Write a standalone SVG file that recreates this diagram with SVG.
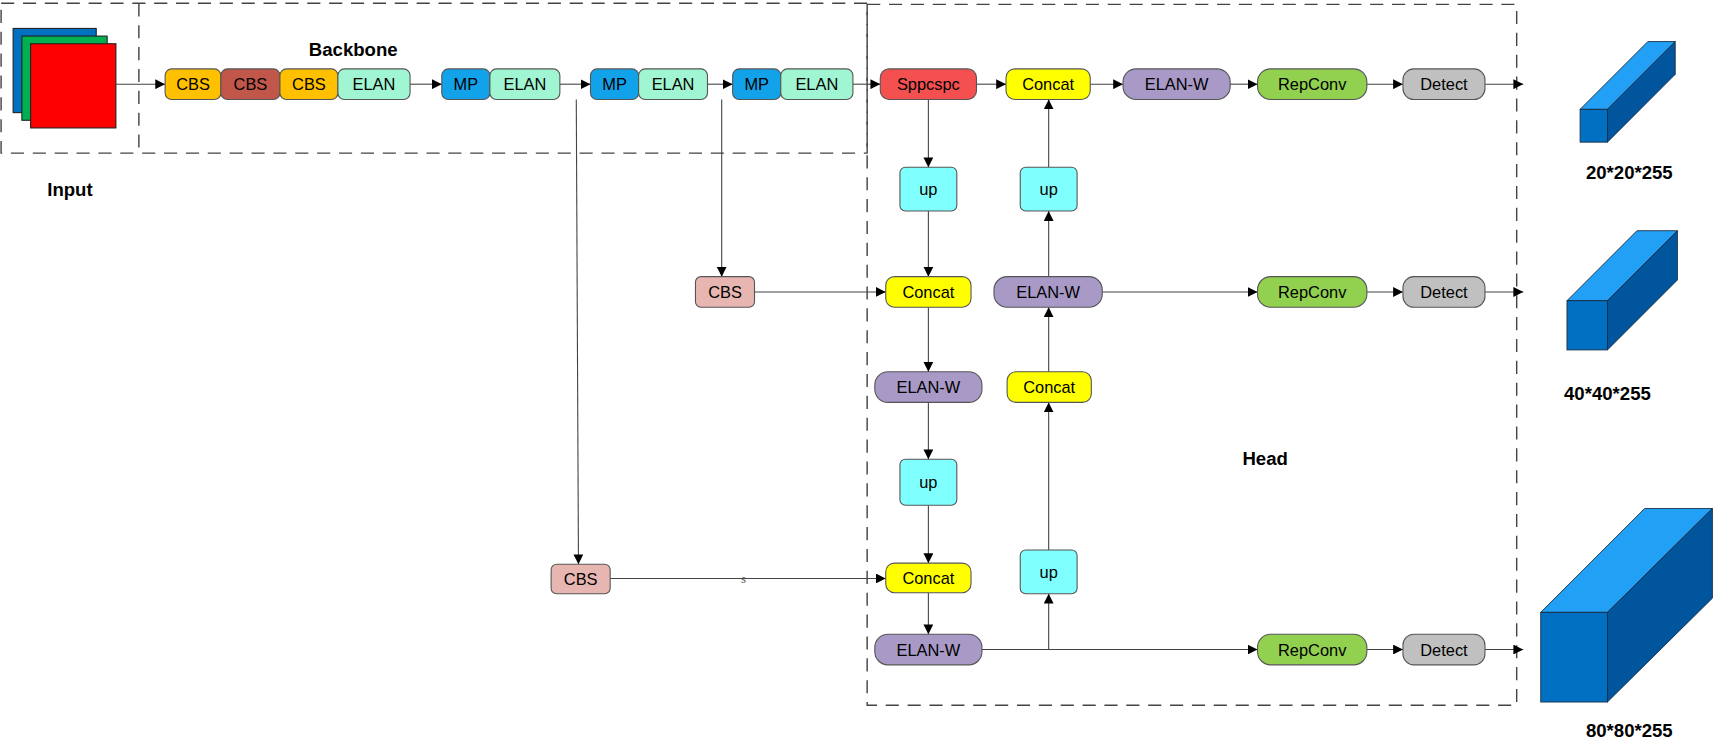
<svg xmlns="http://www.w3.org/2000/svg" width="1717" height="753" viewBox="0 0 1717 753">
<defs>
<marker id="ar" viewBox="0 0 10 10" refX="10" refY="5" markerWidth="9" markerHeight="9" markerUnits="userSpaceOnUse" orient="auto"><path d="M0,0 L10,5 L0,10 z" fill="#000"/></marker>
<style>
.n{stroke:#555;stroke-width:1}
.t{font-family:"Liberation Sans",Arial,sans-serif;font-size:15px;text-anchor:middle;dominant-baseline:central;fill:#000}
.b{font-family:"Liberation Sans",Arial,sans-serif;font-size:17px;font-weight:bold;text-anchor:middle;fill:#000}
.c{stroke:#444;stroke-width:1;fill:none;marker-end:url(#ar)}
.l{stroke:#444;stroke-width:1;fill:none}
.d{stroke:#444;stroke-width:1.3;fill:none;stroke-dasharray:12,8}
.cbs{fill:#FFC000}.cbs2{fill:#C0574A}.elan{fill:#A0F5D2}.mp{fill:#12A2EA}.spp{fill:#F55050}.cat{fill:#FFFF00}.ew{fill:#A899C6}.rep{fill:#92D050}.det{fill:#C0C0C0}.up{fill:#80FFFF}.cbp{fill:#E8B6B0}
</style>
</defs>
<rect width="1717" height="753" fill="#fff"/>
<g transform="scale(1.0935)">
<g id="frames">
<rect class="d" x="1" y="3" width="792" height="137"/>
<line class="d" x1="127" y1="3" x2="127" y2="140"/>
<rect class="d" x="793" y="4" width="594" height="641"/>
</g>
<g id="input">
<rect x="12" y="26" width="76" height="77" fill="#0070C0" stroke="#222"/>
<rect x="20" y="33" width="78" height="77" fill="#00B050" stroke="#222"/>
<rect x="28" y="40" width="78" height="77" fill="#FF0000" stroke="#222"/>
</g>
<g id="labels">
<text class="b" x="323" y="51">Backbone</text>
<text class="b" x="64" y="179">Input</text>
<text class="b" x="1157" y="425">Head</text>
<text class="b" x="1490" y="164">20*20*255</text>
<text class="b" x="1470" y="366">40*40*255</text>
<text class="b" x="1490" y="674">80*80*255</text>
</g>
<g id="connectors">
<path class="c" d="M106,77 H151"/>
<path class="c" d="M375,77 H404"/>
<path class="c" d="M512,77 H540"/>
<path class="c" d="M647,77 H670"/>
<path class="c" d="M780,77 H805"/>
<path class="c" d="M893,77 H920"/>
<path class="c" d="M997,77 H1027"/>
<path class="c" d="M1125,77 H1150"/>
<path class="c" d="M1250,77 H1283"/>
<path class="c" d="M1358,77 H1393"/>
<path class="c" d="M849,91 V153"/>
<path class="c" d="M849,193 V253"/>
<path class="c" d="M849,281 V340"/>
<path class="c" d="M849,368 V420"/>
<path class="c" d="M849,462 V515"/>
<path class="c" d="M849,542 V580"/>
<path class="c" d="M959,153 V91"/>
<path class="c" d="M959,253 V193"/>
<path class="c" d="M959,340 V281"/>
<path class="c" d="M959,503 V368"/>
<path class="c" d="M959,594 V543"/>
<path class="c" d="M898,594 H1150"/>
<path class="c" d="M1250,594 H1283"/>
<path class="c" d="M1358,594 H1393"/>
<path class="c" d="M1008,267 H1150"/>
<path class="c" d="M1250,267 H1283"/>
<path class="c" d="M1358,267 H1393"/>
<path class="c" d="M660,91 V253"/>
<path class="c" d="M690,267 H810"/>
<path class="c" d="M527,91 L529,516"/>
<path class="c" d="M558,529 H810"/>
<text x="680" y="533" font-family="Liberation Serif,serif" font-size="12" text-anchor="middle" fill="#555">s</text>
</g>
<g id="backbone">
<rect class="n cbs" x="151" y="63" width="51" height="28" rx="6"/><text class="t" x="176.5" y="77">CBS</text>
<rect class="n cbs2" x="202" y="63" width="54" height="28" rx="6"/><text class="t" x="229" y="77">CBS</text>
<rect class="n cbs" x="256" y="63" width="53" height="28" rx="6"/><text class="t" x="282.5" y="77">CBS</text>
<rect class="n elan" x="309" y="63" width="66" height="28" rx="6"/><text class="t" x="342" y="77">ELAN</text>
<rect class="n mp" x="404" y="63" width="44" height="28" rx="6"/><text class="t" x="426" y="77">MP</text>
<rect class="n elan" x="448" y="63" width="64" height="28" rx="6"/><text class="t" x="480" y="77">ELAN</text>
<rect class="n mp" x="540" y="63" width="44" height="28" rx="6"/><text class="t" x="562" y="77">MP</text>
<rect class="n elan" x="584" y="63" width="63" height="28" rx="6"/><text class="t" x="615.5" y="77">ELAN</text>
<rect class="n mp" x="670" y="63" width="44" height="28" rx="6"/><text class="t" x="692" y="77">MP</text>
<rect class="n elan" x="714" y="63" width="66" height="28" rx="6"/><text class="t" x="747" y="77">ELAN</text>
</g>
<g id="head">
<rect class="n spp" x="805" y="63" width="88" height="28" rx="8"/><text class="t" x="849" y="77">Sppcspc</text>
<rect class="n cat" x="920" y="63" width="77" height="28" rx="8"/><text class="t" x="958.5" y="77">Concat</text>
<rect class="n ew" x="1027" y="63" width="98" height="28" rx="12"/><text class="t" x="1076" y="77">ELAN-W</text>
<rect class="n rep" x="1150" y="63" width="100" height="28" rx="12"/><text class="t" x="1200" y="77">RepConv</text>
<rect class="n det" x="1283" y="63" width="75" height="28" rx="10"/><text class="t" x="1320.5" y="77">Detect</text>
<rect class="n up" x="823" y="153" width="52" height="40" rx="5"/><text class="t" x="849" y="173">up</text>
<rect class="n up" x="933" y="153" width="52" height="40" rx="5"/><text class="t" x="959" y="173">up</text>
<rect class="n cbp" x="636" y="253" width="54" height="28" rx="5"/><text class="t" x="663" y="267">CBS</text>
<rect class="n cat" x="810" y="253" width="78" height="28" rx="8"/><text class="t" x="849" y="267">Concat</text>
<rect class="n ew" x="909" y="253" width="99" height="28" rx="12"/><text class="t" x="958.5" y="267">ELAN-W</text>
<rect class="n rep" x="1150" y="253" width="100" height="28" rx="12"/><text class="t" x="1200" y="267">RepConv</text>
<rect class="n det" x="1283" y="253" width="75" height="28" rx="10"/><text class="t" x="1320.5" y="267">Detect</text>
<rect class="n ew" x="800" y="340" width="98" height="28" rx="12"/><text class="t" x="849" y="354">ELAN-W</text>
<rect class="n cat" x="921" y="340" width="77" height="28" rx="8"/><text class="t" x="959.5" y="354">Concat</text>
<rect class="n up" x="823" y="420" width="52" height="42" rx="5"/><text class="t" x="849" y="441">up</text>
<rect class="n up" x="933" y="503" width="52" height="40" rx="5"/><text class="t" x="959" y="523">up</text>
<rect class="n cbp" x="504" y="516" width="54" height="27" rx="5"/><text class="t" x="531" y="529.5">CBS</text>
<rect class="n cat" x="810" y="515" width="78" height="27" rx="8"/><text class="t" x="849" y="528.5">Concat</text>
<rect class="n ew" x="800" y="580" width="98" height="28" rx="12"/><text class="t" x="849" y="594">ELAN-W</text>
<rect class="n rep" x="1150" y="580" width="100" height="28" rx="12"/><text class="t" x="1200" y="594">RepConv</text>
<rect class="n det" x="1283" y="580" width="75" height="28" rx="10"/><text class="t" x="1320.5" y="594">Detect</text>
</g>
<g id="outputs" stroke="#1a2a40" stroke-width="0.8">
<polygon points="1445,100 1507,38 1532,38 1470,100" fill="#22A0F5"/>
<polygon points="1470,100 1532,38 1532,68 1470,130" fill="#00559C"/>
<rect x="1445" y="100" width="25" height="30" fill="#0070C2"/>
<polygon points="1433,275 1497,211 1534,211 1470,275" fill="#22A0F5"/>
<polygon points="1470,275 1534,211 1534,256 1470,320" fill="#00559C"/>
<rect x="1433" y="275" width="37" height="45" fill="#0070C2"/>
<polygon points="1409,560 1504,465 1566,465 1470,560" fill="#22A0F5"/>
<polygon points="1470,560 1566,465 1566,547 1470,642" fill="#00559C"/>
<rect x="1409" y="560" width="61" height="82" fill="#0070C2"/>
</g>
</g>
</svg>
